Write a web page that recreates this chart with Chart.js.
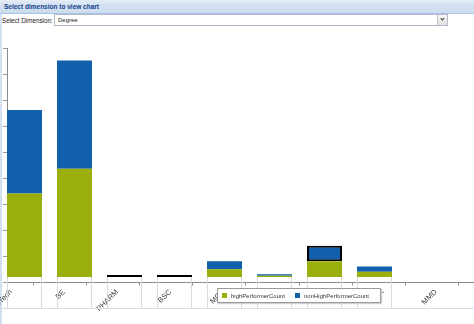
<!DOCTYPE html>
<html>
<head>
<meta charset="utf-8">
<script src="https://cdn.jsdelivr.net/npm/chart.js@4.4.1/dist/chart.umd.min.js"></script>
<style>
body { margin:0; width:474px; height:324px; overflow:hidden; background:#fff; font-family:"Liberation Sans", Arial, sans-serif; position:relative; }
#hdr { position:absolute; left:0; top:0; width:474px; height:13px; background:linear-gradient(#e6edf8, #d5e2f2 35%, #ccdcef); border-bottom:1px solid #a9c3e6; }
#hdr span { position:absolute; left:4px; top:3px; font-size:6.5px; font-weight:bold; color:#15428b; }
#side { position:absolute; left:0; top:14px; width:2px; height:310px; background:#d3e0f1; }
#lbl { position:absolute; left:2px; top:16.5px; font-size:6.3px; color:#222; }
#sel { position:absolute; left:54px; top:14px; width:392px; height:10px; border:1px solid #b5b8c8; background:#fff; }
#sel span { position:absolute; left:3px; top:1.5px; font-size:6px; color:#222; }
#arrow { position:absolute; right:0; top:0; width:9px; height:10px; background:linear-gradient(#fafafa,#dedede); border-left:1px solid #c4c4c4; }
#arrow i { position:absolute; left:3px; top:2px; width:2px; height:2px; border-right:1px solid #333; border-bottom:1px solid #333; transform:rotate(45deg); }
#chart { position:absolute; left:0; top:30px; }
#legend { position:absolute; left:217px; top:288px; width:162px; height:13px; border:1px solid #9a9a9a; background:#fff; box-shadow:1px 1px 1px #d0d0d0; font-size:6px; color:#333; }
#legend .item { position:absolute; top:3.5px; white-space:nowrap; }
#legend .box { display:inline-block; width:5px; height:5px; margin-right:4px; vertical-align:-0.5px; }
</style>
</head>
<body>
<div id="hdr"><span>Select dimension to view chart</span></div>
<div id="side"></div>
<div id="lbl">Select Dimension:</div>
<div id="sel"><span>Degree</span><div id="arrow"><i></i></div></div>
<canvas id="chart" width="474" height="294"></canvas>
<div id="legend"></div>
<script>
// Chart/Grafik degree

var categories = ["B.Tech", "BE", "PHARM", "BSC", "MCA", "MSC", "ME", "MBA", "MMD"];
var highPerformerCount = [64, 83, 0, 0, 6, 1, 12, 4, 0];
var nonHighPerformerCount = [64, 83, 1.5, 1.5, 6, 1, 12, 4, 0];
var yStep = 20;
var yMin = -4.4;

var green = '#9aaf0c';
var blue = '#1160ab';

function points(values) {
    return values.map(function (v, i) { return { x: i, y: v }; });
}

// light lines under the bars, like the original
var ghostLines = {
    id: 'ghostLines',
    afterDatasetsDraw: function (chart) {
        var ctx = chart.ctx;
        var meta = chart.getDatasetMeta(0);
        var y0 = chart.scales.y.getPixelForValue(0);
        var yb = chart.chartArea.bottom + 25.5;
        ctx.save();
        ctx.strokeStyle = '#dadada';
        ctx.lineWidth = 1;
        meta.data.forEach(function (bar, i) {
            if (highPerformerCount[i] + nonHighPerformerCount[i] === 0) return;
            var l = Math.round(bar.x - bar.width / 2) + 0.5;
            var r = Math.round(bar.x + bar.width / 2) - 0.5;
            ctx.beginPath();
            ctx.moveTo(l, y0); ctx.lineTo(l, yb);
            ctx.moveTo(r, y0); ctx.lineTo(r, yb);
            ctx.stroke();
        });
        ctx.strokeStyle = '#d6dde8';
        ctx.beginPath();
        ctx.moveTo(0, Math.round(yb) + 0.5);
        ctx.lineTo(chart.width, Math.round(yb) + 0.5);
        ctx.stroke();
        ctx.restore();
    }
};

var ctxB = document.getElementById('chart').getContext('2d');
var myBarChart = new Chart(ctxB, {
    type: 'bar',
    data: {
        datasets: [{
            label: 'highPerformerCount',
            data: points(highPerformerCount),
            backgroundColor: green,
            borderWidth: 0,
            inflateAmount: 0
        }, {
            label: 'nonHighPerformerCount',
            data: points(nonHighPerformerCount),
            backgroundColor: blue,
            borderColor: '#000',
            borderSkipped: false,
            inflateAmount: 0,
            borderWidth: function (c) { return [2, 3, 6].indexOf(c.dataIndex) >= 0 ? 2 : 0; }
        }]
    },
    options: {
        responsive: false,
        devicePixelRatio: 1,
        animation: false,
        barThickness: 35,
        layout: { padding: { top: 18, left: 3, right: 0, bottom: 0 } },
        plugins: { legend: { display: false }, tooltip: { enabled: false } },
        scales: {
            x: {
                type: 'linear', stacked: true, display: false, offset: false,
                min: -0.35, max: 8.99
            },
            xLab: {
                type: 'linear', position: 'bottom', offset: false,
                min: 0, max: 8.795,
                afterBuildTicks: function (s) {
                    s.ticks = categories.map(function (c, i) { return { value: i }; });
                },
                afterFit: function (s) { s.height = 41.3; s.paddingLeft = 0; s.paddingRight = 0; },
                grid: { drawOnChartArea: false, tickLength: 3, color: '#999' },
                border: { color: '#8a8a8a' },
                ticks: {
                    autoSkip: false, minRotation: 45, maxRotation: 45, padding: 2, labelOffset: 4,
                    color: '#444', font: { size: 7.5, family: 'Liberation Sans' },
                    callback: function (v) { return categories[v] || ''; }
                }
            },
            y: {
                stacked: true, min: yMin, max: yMin + 9 * yStep,
                afterBuildTicks: function (s) {
                    var t = [];
                    for (var k = 0; k <= 9; k++) t.push({ value: yMin + k * yStep });
                    s.ticks = t;
                },
                grid: { drawOnChartArea: false, tickLength: 4, color: '#999' },
                border: { color: '#8a8a8a' },
                ticks: { display: false }
            }
        }
    },
    plugins: [ghostLines]
});

var lg = document.getElementById('legend');
var lx = [4, 77];
myBarChart.data.datasets.forEach(function (ds, i) {
    var d = document.createElement('div');
    d.className = 'item';
    d.style.left = lx[i] + 'px';
    d.innerHTML = '<span class="box" style="background:' + ds.backgroundColor + '"></span>' + ds.label;
    lg.appendChild(d);
});
</script>
</body>
</html>
